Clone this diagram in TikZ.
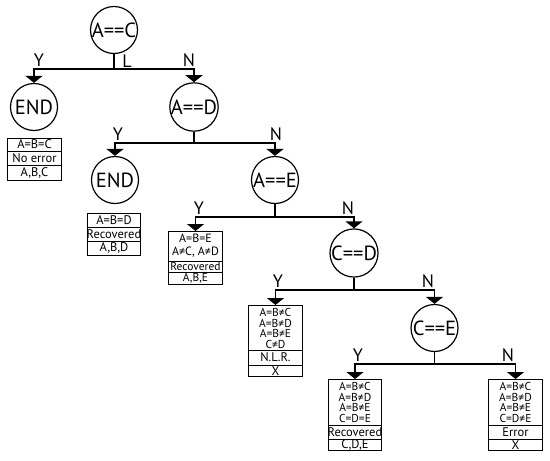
\documentclass[tikz,border=0pt]{standalone}
\usepackage{fontspec}
\setmainfont{PT Sans}
\usetikzlibrary{arrows.meta}
\begin{document}
\begin{tikzpicture}[x=1pt,y=-1pt,
  dec/.style={circle,draw,line width=1.2pt,minimum size=47pt,inner sep=0pt,font=\fontsize{20.5}{20.5}\selectfont},
  res/.style={draw,line width=1pt,inner sep=0pt,anchor=north west},
  conn/.style={line width=1.3pt,-{Triangle[length=7pt,width=17pt]}},
  stem/.style={line width=1.3pt},
  sep/.style={line width=1pt},
  yn/.style={font=\fontsize{18}{18}\selectfont,inner sep=0pt},
  row/.style={font=\fontsize{12.5}{12.5}\selectfont,inner sep=0pt},
  multi/.style={font=\fontsize{11.5}{10.5}\selectfont,inner sep=0pt,align=center}
]
\useasboundingbox (0,0) rectangle (550,461);
% decision nodes
\node[dec] (c1) at (114,30) {A==C};
\node[dec] (e1) at (34,107) {END};
\node[dec] (c2) at (194,107) {A==D};
\node[dec] (e2) at (115,180) {END};
\node[dec] (c3) at (275,180) {A==E};
\node[dec] (c4) at (354,253) {C==D};
\node[dec] (c5) at (434.5,328) {C==E};
% result boxes
\node[res,minimum width=54pt,minimum height=42pt] (b1) at (7,138) {};
\node[res,minimum width=53pt,minimum height=42pt] (b2) at (87,213) {};
\node[res,minimum width=54pt,minimum height=53pt] (b3) at (168,231) {};
\node[res,minimum width=54pt,minimum height=71pt] (b4) at (248,305) {};
\node[res,minimum width=53pt,minimum height=71pt] (b5) at (328,379) {};
\node[res,minimum width=54pt,minimum height=71pt] (b6) at (488,379) {};
% bars
\coordinate (y1) at (0,69);
\coordinate (y2) at (0,143);
\coordinate (y3) at (0,217);
\coordinate (y4) at (0,290);
\coordinate (y5) at (0,364);
% connectors
\draw[stem] (c1.south) -- (c1.south |- y1);
\draw[conn] (c1.south |- y1) -| (e1.north);
\draw[conn] (c1.south |- y1) -| (c2.north);
\draw[stem] (c2.south) -- (c2.south |- y2);
\draw[conn] (c2.south |- y2) -| (e2.north);
\draw[conn] (c2.south |- y2) -| (c3.north);
\draw[stem] (c3.south) -- (c3.south |- y3);
\draw[conn] (c3.south |- y3) -| (b3.north);
\draw[conn] (c3.south |- y3) -| (c4.north);
\draw[stem] (c4.south) -- (c4.south |- y4);
\draw[conn] (c4.south |- y4) -| (b4.north);
\draw[conn] (c4.south |- y4) -| (c5.north);
\draw[stem] (c5.south) -- (c5.south |- y5);
\draw[conn] (c5.south |- y5) -| (b5.north);
\draw[conn] (c5.south |- y5) -| (b6.north);
% Y/N labels
\node[yn] (l1y) at (39,60) {Y};
\node[yn] (l1n) at (189,60) {N};
\node[yn] (l1l) at (127,61) {L};
\node[yn] (l2y) at (118,134) {Y};
\node[yn] (l2n) at (276,134) {N};
\node[yn] (l3y) at (199,208) {Y};
\node[yn] (l3n) at (348,208) {N};
\node[yn] (l4y) at (278,281) {Y};
\node[yn] (l4n) at (428,281) {N};
\node[yn] (l5y) at (358,355) {Y};
\node[yn] (l5n) at (508,355) {N};
% box 1
\draw[sep] (b1.west |- 0,151) -- (b1.east |- 0,151);
\draw[sep] (b1.west |- 0,165) -- (b1.east |- 0,165);
\node[row] (t11) at (b1.north |- 0,144.5) {A=B=C};
\node[row] (t12) at (b1.north |- 0,158) {No error};
\node[row] (t13) at (b1.north |- 0,172.5) {A,B,C};
% box 2
\draw[sep] (b2.west |- 0,227) -- (b2.east |- 0,227);
\draw[sep] (b2.west |- 0,241) -- (b2.east |- 0,241);
\node[row] (t21) at (b2.north |- 0,220) {A=B=D};
\node[row] (t22) at (b2.north |- 0,234) {Recovered};
\node[row] (t23) at (b2.north |- 0,248) {A,B,D};
% box 3
\draw[sep] (b3.west |- 0,261) -- (b3.east |- 0,261);
\draw[sep] (b3.west |- 0,272) -- (b3.east |- 0,272);
\node[multi,font=\fontsize{12}{13}\selectfont] (t31) at (b3.north |- 0,245.5) {A=B=E\\A≠C, A≠D};
\node[row,font=\fontsize{11.5}{11.5}\selectfont] (t33) at (b3.north |- 0,266.5) {Recovered};
\node[row,font=\fontsize{11.5}{11.5}\selectfont] (t34) at (b3.north |- 0,278) {A,B,E};
% box 4
\draw[sep] (b4.west |- 0,350) -- (b4.east |- 0,350);
\draw[sep] (b4.west |- 0,365) -- (b4.east |- 0,365);
\node[multi] (t41) at (b4.north |- 0,328.5) {A=B≠C\\A=B≠D\\A=B≠E\\C≠D};
\node[row] (t45) at (b4.north |- 0,357.5) {N.L.R.};
\node[row] (t46) at (b4.north |- 0,371) {X};
% box 5
\draw[sep] (b5.west |- 0,425) -- (b5.east |- 0,425);
\draw[sep] (b5.west |- 0,439) -- (b5.east |- 0,439);
\node[multi] (t51) at (b5.north |- 0,402.5) {A=B≠C\\A=B≠D\\A=B≠E\\C=D=E};
\node[row] (t55) at (b5.north |- 0,432) {Recovered};
\node[row] (t56) at (b5.north |- 0,445) {C,D,E};
% box 6
\draw[sep] (b6.west |- 0,425) -- (b6.east |- 0,425);
\draw[sep] (b6.west |- 0,439) -- (b6.east |- 0,439);
\node[multi] (t61) at (b6.north |- 0,402.5) {A=B≠C\\A=B≠D\\A=B≠E\\C=D≠E};
\node[row] (t65) at (b6.north |- 0,432) {Error};
\node[row] (t66) at (b6.north |- 0,445) {X};
\end{tikzpicture}
\end{document}
